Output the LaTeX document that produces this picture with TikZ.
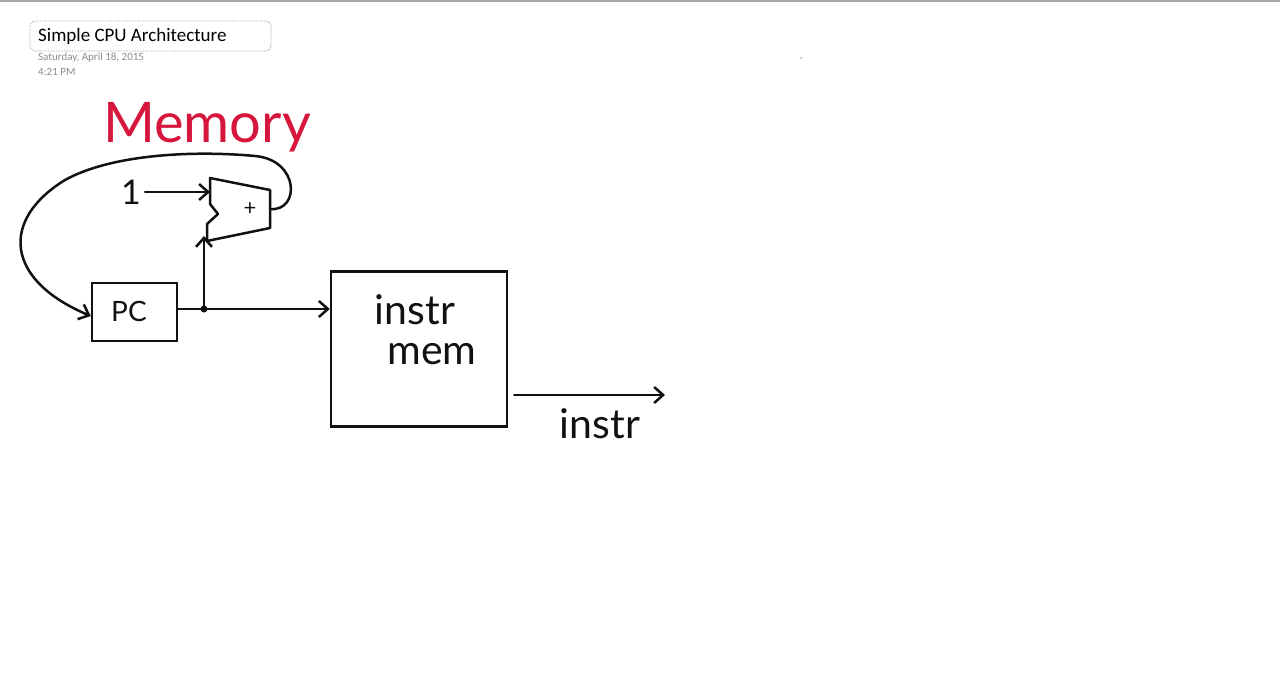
\documentclass[tikz,border=0pt]{standalone}
\usepackage{fontspec}
\setmainfont{Carlito}
\newfontfamily\hand{Lato}
\usetikzlibrary{arrows.meta}
\definecolor{ink}{HTML}{111111}
\definecolor{memred}{HTML}{D6163C}
\definecolor{greytxt}{HTML}{8C8C8C}
\definecolor{frame}{HTML}{A8A8A8}
\begin{document}
\begin{tikzpicture}[x=1pt,y=-1pt,
  wire/.style={draw=ink,line width=2.5pt,line cap=round,line join=round},
  arr/.style={wire,-{Straight Barb[length=9pt,width=16pt,line width=2.5pt]}},
  blk/.style={draw=ink,line width=2.5pt,inner sep=0pt},
  handtxt/.style={text=ink,font=\hand\fontsize{41}{41}\selectfont,inner sep=0pt},
  datetxt/.style={text=greytxt,font=\fontsize{11}{12}\selectfont,anchor=west,inner sep=0pt}]
\useasboundingbox[fill=white] (0,0) rectangle (1280,690);
% top rule
\draw[frame,line width=1.5pt] (0,1) -- (1280,1);
% title
\draw[frame,line width=0.8pt,dash pattern=on 1.5pt off 1.2pt,rounded corners=5pt] (30,21) rectangle (271,51);
\node[anchor=west,inner sep=0pt,font=\fontsize{19}{20}\selectfont] (title) at (38,36.5) {Simple CPU Architecture};
\node[datetxt] (date) at (38,58) {Saturday, April 18, 2015};
\node[datetxt] (time) at (38,72) {4:21 PM};
\fill[frame] (801,58) circle (1pt);
% Memory label
\node[text=memred,font=\hand\fontsize{56}{56}\selectfont,inner sep=0pt] (memlbl) at (207,127) {Memory};
% PC
\node[blk,minimum width=85pt,minimum height=58pt] (pc) at (134.5,312) {};
\node[text=ink,font=\hand\fontsize{28}{28}\selectfont,inner sep=0pt] (pctxt) at (129,311) {PC};
% instr mem
\node[blk,minimum width=176pt,minimum height=155pt] (im) at (419,349) {};
\node[handtxt] (imt1) at (415,310) {instr};
\node[handtxt] (imt2) at (432,354) {mem};
% adder
\coordinate (addin1) at (210,192);
\coordinate (addin2) at (207,236);
\coordinate (addout) at (270,209);
\draw[wire] (210,178) -- (270,190) -- (270,228) -- (207,241) -- (207,224) -- (218,214) -- (210,204) -- cycle;
\node[text=ink,font=\hand\fontsize{22}{22}\selectfont,inner sep=0pt] (plus) at (250,209) {+};
% constant 1
\node[text=ink,font=\hand\fontsize{34}{34}\selectfont,inner sep=0pt] (one) at (131,192) {1};
\draw[arr] (one.east) ++(4,0) -- (addin1);
% feedback loop
\coordinate (pcin) at (pc.west |- 0,316);
\draw[arr] (addout) .. controls (300,212) and (300,160) .. (255,156)
  .. controls (190,150) and (110,155) .. (65,180)
  .. controls (0,220) and (5,280) .. (pcin);
% PC out to instr mem and adder
\coordinate (j) at (204,309);
\draw[arr] (pc.east |- j) -- (j) -- (im.west |- j);
\draw[arr] (j) -- (j |- addin2);
\fill[ink] (j) circle (3.5pt);
% output
\coordinate (outend) at (665,395);
\draw[arr] ([xshift=6pt]im.east |- outend) -- (outend);
\node[handtxt] (outlbl) at (600,424) {instr};
\end{tikzpicture}
\end{document}
